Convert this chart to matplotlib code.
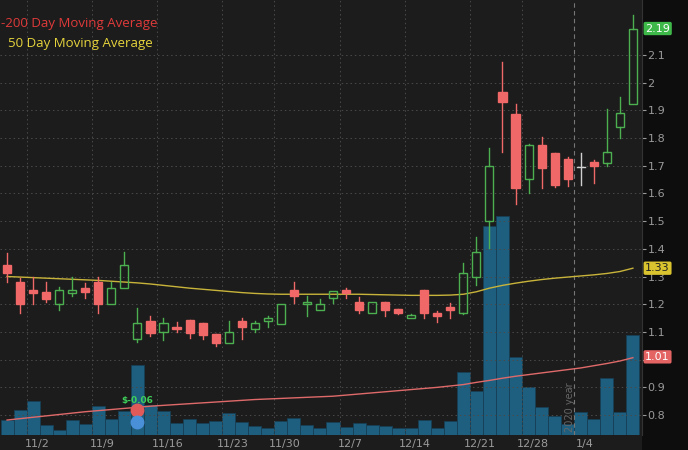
import matplotlib
matplotlib.use("Agg")
import matplotlib.pyplot as plt
from matplotlib.patches import Rectangle
import numpy as np

dates = ["10/29","10/30","11/2","11/3","11/4","11/5","11/6","11/9","11/10","11/11",
         "11/12","11/13","11/16","11/17","11/18","11/19","11/20","11/23","11/24","11/25",
         "11/27","11/30","12/1","12/2","12/3","12/4","12/7","12/8","12/9","12/10",
         "12/11","12/14","12/15","12/16","12/17","12/18","12/21","12/22","12/23","12/24",
         "12/28","12/29","12/30","12/31","1/4","1/5","1/6","1/7","1/8"]
opens = [1.34,1.281,1.251,1.243,1.20,1.24,1.26,1.281,1.20,1.257,
         1.074,1.139,1.098,1.119,1.143,1.131,1.091,1.059,1.141,1.109,
         1.139,1.127,1.251,1.20,1.179,1.221,1.251,1.209,1.167,1.209,
         1.182,1.149,1.251,1.169,1.191,1.167,1.30,1.50,1.967,1.886,
         1.652,1.773,1.745,1.723,1.696,1.712,1.709,1.841,1.923]
highs = [1.386,1.295,1.297,1.281,1.263,1.30,1.277,1.30,1.281,1.39,
         1.187,1.158,1.149,1.137,1.143,1.131,1.091,1.141,1.149,1.139,
         1.157,1.20,1.281,1.23,1.219,1.249,1.26,1.227,1.209,1.209,
         1.182,1.165,1.251,1.175,1.203,1.348,1.441,1.763,2.075,1.923,
         1.78,1.805,1.745,1.733,1.745,1.72,1.904,1.947,2.244]
lows = [1.281,1.169,1.201,1.209,1.179,1.231,1.221,1.169,1.20,1.257,
        1.062,1.086,1.071,1.101,1.077,1.074,1.049,1.059,1.073,1.098,
        1.119,1.127,1.203,1.157,1.179,1.203,1.221,1.167,1.167,1.157,
        1.163,1.149,1.149,1.137,1.149,1.163,1.269,1.402,1.751,1.562,
        1.602,1.618,1.622,1.625,1.63,1.639,1.70,1.799,1.923]
closes = [1.311,1.201,1.239,1.219,1.251,1.251,1.243,1.20,1.26,1.342,
          1.131,1.097,1.131,1.109,1.097,1.089,1.061,1.098,1.117,1.131,
          1.151,1.20,1.231,1.209,1.20,1.249,1.239,1.179,1.209,1.179,
          1.167,1.161,1.167,1.157,1.179,1.311,1.39,1.70,1.931,1.618,
          1.775,1.693,1.63,1.652,1.696,1.70,1.751,1.891,2.195]
volumes = [45,75,101,30,16,45,33,86,48,71,
           210,91,71,35,48,35,43,65,40,28,
           21,43,51,31,20,38,24,35,30,27,
           20,20,45,20,43,190,133,627,657,233,
           145,85,57,33,70,47,170,70,300]
ma50 = [1.300,1.298,1.296,1.294,1.292,1.290,1.288,1.286,1.283,1.280,
        1.277,1.273,1.268,1.263,1.258,1.254,1.250,1.246,1.242,1.239,
        1.237,1.236,1.236,1.236,1.236,1.236,1.236,1.236,1.235,1.234,
        1.233,1.232,1.232,1.232,1.233,1.236,1.245,1.258,1.268,1.276,
        1.283,1.289,1.294,1.298,1.302,1.306,1.311,1.318,1.330]
ma200 = [0.782,0.787,0.792,0.797,0.802,0.807,0.812,0.816,0.820,0.824,
         0.828,0.832,0.835,0.838,0.841,0.844,0.847,0.850,0.853,0.856,
         0.858,0.860,0.862,0.864,0.866,0.868,0.872,0.876,0.880,0.884,
         0.888,0.892,0.896,0.900,0.905,0.910,0.918,0.925,0.933,0.940,
         0.946,0.952,0.958,0.964,0.970,0.978,0.986,0.995,1.007]
tick_dates = ["11/2","11/9","11/16","11/23","11/30","12/7","12/14","12/21","12/28","1/4"]
price_ticks = [0.8,0.9,1.0,1.1,1.2,1.3,1.4,1.5,1.6,1.7,1.8,1.9,2.0,2.1]
price_tick_labels = ["0.8","0.9","","1.1","1.2","1.3","1.4","1.5","1.6","1.7","1.8","1.9","2","2.1"]

BG = "#1c1c1c"
GREEN = "#4cb050"
RED = "#f06868"
VOL = "#1e5f80"

fig = plt.figure(figsize=(6.88, 4.5), dpi=100, facecolor=BG)
fig.patches.append(Rectangle((642/688, 0), 1 - 642/688, 1, transform=fig.transFigure,
                             facecolor="#0d0d0d", edgecolor="none", zorder=0))
ax = fig.add_axes([0, 15/450, 642/688, 435/450])
n = len(dates)
x = np.arange(n)

axv = ax.twinx()
axv.set_ylim(0, 1305)
axv.set_yticks([])
axv.bar(x, volumes, width=1.0, color=VOL, edgecolor="#163f55", linewidth=0.6, zorder=1)
for s in axv.spines.values():
    s.set_visible(False)
ax.set_zorder(axv.get_zorder() + 1)
ax.patch.set_visible(False)
axv.patch.set_visible(True)
axv.set_facecolor(BG)
ax.set_xlim(-0.54, 48.7)
ax.set_ylim(0.728, 2.298)

for p in price_ticks:
    ax.axhline(p, color="#4a4a4a", lw=0.7, ls=(0, (1.5, 3)), zorder=0)
for d in tick_dates:
    i = dates.index(d)
    if d == "1/4":
        ax.axvline(i - 0.5, color="#777777", lw=0.8, ls=(0, (4, 3)), zorder=0)
    else:
        ax.axvline(i - 0.5, color="#4a4a4a", lw=0.7, ls=(0, (1.5, 3)), zorder=0)

ax.plot(x, ma200, color="#e06a6a", lw=1.0, zorder=2)
ax.plot(x, ma50, color="#c8b43a", lw=1.0, zorder=2)

w = 0.62
for i in range(n):
    o, h, l, c = opens[i], highs[i], lows[i], closes[i]
    if abs(c - o) < 0.002:
        col = "#d0d0d0"
        ax.plot([i, i], [l, h], color=col, lw=1, zorder=3)
        ax.plot([i - w/2, i + w/2], [c, c], color=col, lw=1, zorder=3)
        continue
    if c > o:
        ax.plot([i, i], [l, o], color=GREEN, lw=1, zorder=3)
        ax.plot([i, i], [c, h], color=GREEN, lw=1, zorder=3)
        ax.add_patch(Rectangle((i - w/2, o), w, c - o, facecolor="none", edgecolor=GREEN, lw=1, zorder=3))
    else:
        ax.plot([i, i], [l, h], color=RED, lw=1, zorder=3)
        ax.add_patch(Rectangle((i - w/2, c), w, o - c, facecolor=RED, edgecolor=RED, lw=1, zorder=4))

for s in ["top", "left", "bottom"]:
    ax.spines[s].set_visible(False)
ax.spines["right"].set_color("#333333")
ax.yaxis.tick_right()
ax.set_yticks(price_ticks)
ax.set_yticklabels(price_tick_labels)
ax.tick_params(axis="y", colors="#9a9a9a", labelsize=8, length=3, pad=1)
ax.set_xticks([dates.index(d) + 0.3 for d in tick_dates])
ax.set_xticklabels(tick_dates)
ax.tick_params(axis="x", colors="#9a9a9a", labelsize=8, length=0, pad=3)

def tag(v, txt, fc, tc):
    ax.text(48.95, v, txt, color=tc, fontsize=8, va="center", ha="left",
            bbox=dict(boxstyle="round,pad=0.15", fc=fc, ec="none"), zorder=6, clip_on=False)
tag(2.195, "2.19", "#3fb84a", "white")
tag(1.33, "1.33", "#d9c32e", "#222222")
tag(1.01, "1.01", "#e46464", "white")

fig.text(0.002, 1 - 24/450, "-200 Day Moving Average", color="#e03a3a", fontsize=9.5,
         family="Open Sans", va="center", ha="left")
fig.text(0.012, 1 - 43/450, "50 Day Moving Average", color="#e6d43c", fontsize=9.5,
         family="Open Sans", va="center", ha="left")

ax.text(43.15, 0.83, "2020 year", color="#666666", fontsize=7, rotation=90, va="center", ha="center", zorder=2)

ax.text(10, 0.852, "$-0.06", color="#3fd05a", fontsize=6.5, fontweight="bold", ha="center", va="center", zorder=6)
ax.plot([10], [0.817], marker="o", ms=9, color="#e05a5a", zorder=6)
ax.plot([10], [0.774], marker="o", ms=9, color="#4a90d9", zorder=6)

fig.savefig("out.png", dpi=100, facecolor=fig.get_facecolor())
